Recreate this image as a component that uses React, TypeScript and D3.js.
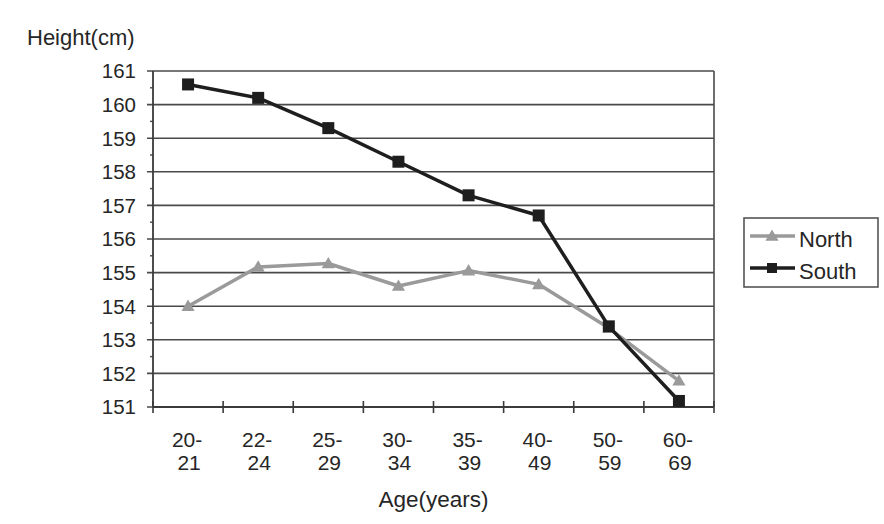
import React, { useMemo } from 'react';
import * as d3 from 'd3';

const ageGroups = ['20-21', '22-24', '25-29', '30-34', '35-39', '40-49', '50-59', '60-69'];
const northHeights = [154.0, 155.17, 155.27, 154.6, 155.06, 154.65, 153.35, 151.78];
const southHeights = [160.6, 160.2, 159.3, 158.3, 157.3, 156.7, 153.4, 151.18];
const yTicks = [151, 152, 153, 154, 155, 156, 157, 158, 159, 160, 161];

const font = 'Liberation Sans, Arial, sans-serif';
const ink = '#262626';

const App = () => {
  const width = 884,
    height = 524;
  const plot = { left: 153, right: 714, top: 71, bottom: 407 };

  const x = useMemo(
    () => d3.scaleBand().domain(ageGroups).range([plot.left, plot.right]).padding(0),
    []
  );
  const y = useMemo(() => d3.scaleLinear().domain([151, 161]).range([plot.bottom, plot.top]), []);

  const cx = (g: string) => (x(g) as number) + x.bandwidth() / 2;

  const line = d3
    .line<number>()
    .x((_, i) => cx(ageGroups[i]))
    .y((d) => y(d));

  const minorTicks = d3.range(151.5, 161, 1);
  const bounds = ageGroups.map((g) => x(g) as number).concat([plot.right]);
  const tri = d3.symbol(d3.symbolTriangle, 75)();

  return (
    <svg
      width={width}
      height={height}
      style={{ position: 'absolute', left: 0, top: 0, background: '#fff' }}
      fontFamily={font}
    >
      {/* gridlines + major ticks */}
      {yTicks.map((t) => (
        <line
          key={'g' + t}
          x1={plot.left - 6}
          x2={plot.right}
          y1={y(t)}
          y2={y(t)}
          stroke="#4a4a4a"
          strokeWidth={1.6}
        />
      ))}
      {minorTicks.map((t) => (
        <line
          key={'m' + t}
          x1={plot.left - 3}
          x2={plot.left}
          y1={y(t)}
          y2={y(t)}
          stroke="#4a4a4a"
          strokeWidth={1.4}
        />
      ))}
      {/* axes and right border */}
      <line x1={plot.left} x2={plot.left} y1={plot.top} y2={plot.bottom} stroke="#3a3a3a" strokeWidth={1.8} />
      <line x1={plot.right} x2={plot.right} y1={plot.top} y2={plot.bottom} stroke="#4a4a4a" strokeWidth={1.6} />
      <line x1={plot.left} x2={plot.right} y1={plot.bottom} y2={plot.bottom} stroke="#3a3a3a" strokeWidth={1.8} />
      {bounds.map((bx, i) => (
        <line key={'xt' + i} x1={bx} x2={bx} y1={plot.bottom - 6} y2={plot.bottom + 6} stroke="#3a3a3a" strokeWidth={1.6} />
      ))}

      {/* y tick labels */}
      {yTicks.map((t) => (
        <text key={'yl' + t} x={136} y={y(t)} dy="0.36em" textAnchor="end" fontSize={20.5} fill={ink}>
          {t}
        </text>
      ))}

      {/* x tick labels, split over two lines */}
      {ageGroups.map((g) => {
        const [a, b] = g.split('-');
        return (
          <text key={'xl' + g} textAnchor="middle" fontSize={21} fill={ink}>
            <tspan x={cx(g) - 1} y={447}>
              {a + '-'}
            </tspan>
            <tspan x={cx(g) + 1} y={470}>
              {b}
            </tspan>
          </text>
        );
      })}

      <text x={27} y={45} fontSize={22} fill={ink}>
        Height(cm)
      </text>
      <text x={(plot.left + plot.right) / 2} y={507} textAnchor="middle" fontSize={22.5} fill={ink}>
        Age(years)
      </text>

      {/* North series */}
      <path d={line(northHeights) as string} fill="none" stroke="#9a9a9a" strokeWidth={3.5} strokeLinejoin="round" />
      {northHeights.map((v, i) => (
        <path key={'n' + i} d={tri as string} transform={`translate(${cx(ageGroups[i])},${y(v) + 1})`} fill="#9a9a9a" />
      ))}

      {/* South series */}
      <path d={line(southHeights) as string} fill="none" stroke="#1e1e1e" strokeWidth={3.5} strokeLinejoin="round" />
      {southHeights.map((v, i) => (
        <rect key={'s' + i} x={cx(ageGroups[i]) - 6} y={y(v) - 6} width={12} height={12} fill="#1e1e1e" />
      ))}

      {/* legend */}
      <g>
        <rect x={744} y={218} width={134} height={69} fill="#fff" stroke="#555" strokeWidth={1.6} />
        <line x1={750} x2={795} y1={236} y2={236} stroke="#9a9a9a" strokeWidth={3.5} />
        <path d={tri as string} transform="translate(772,237)" fill="#9a9a9a" />
        <text x={799} y={247} fontSize={22} fill={ink}>
          North
        </text>
        <line x1={750} x2={795} y1={268} y2={268} stroke="#1e1e1e" strokeWidth={3.5} />
        <rect x={767} y={263} width={10} height={10} fill="#1e1e1e" />
        <text x={799} y={279} fontSize={22} fill={ink}>
          South
        </text>
      </g>
    </svg>
  );
};

export default App;
